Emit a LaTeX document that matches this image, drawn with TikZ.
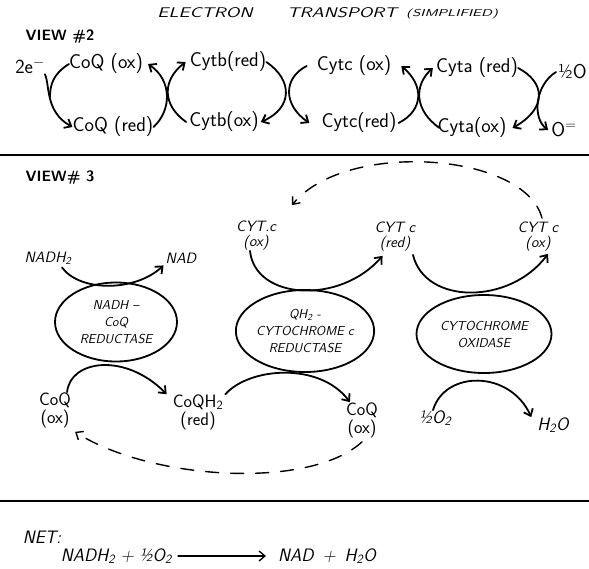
\documentclass[tikz,border=0pt]{standalone}
\usepackage{fontspec}
\usetikzlibrary{arrows.meta,shapes.geometric}
\tikzset{
  hand/.style={line width=1.8pt, line cap=round},
  harr/.style={hand, -{Straight Barb[length=6pt,width=10pt]}},
  dsh/.style={hand, line width=1.4pt, dash pattern=on 13pt off 12pt, -{Straight Barb[length=6pt,width=10pt]}},
  sepline/.style={line width=1.8pt},
  ttl/.style={font=\sffamily\itshape\fontsize{14}{15}\selectfont, inner sep=0pt, xscale=1.35, transform shape},
  ttls/.style={font=\sffamily\itshape\fontsize{10}{11}\selectfont, inner sep=0pt, xscale=1.5, transform shape},
  vlab/.style={font=\sffamily\bfseries\fontsize{15}{16}\selectfont, inner sep=0pt},
  lbl/.style={font=\sffamily\fontsize{20}{22}\selectfont, inner sep=0pt},
  cl/.style={font=\sffamily\itshape\fontsize{15}{15}\selectfont, inner sep=0pt, align=center},
  bl/.style={font=\sffamily\itshape\fontsize{18}{18}\selectfont, inner sep=0pt, align=center},
  sl/.style={font=\sffamily\fontsize{18}{18}\selectfont, inner sep=0pt, align=center},
  enz/.style={ellipse, draw, line width=1.8pt, inner sep=0pt, align=center,
    font=\sffamily\itshape\fontsize{13}{17}\selectfont},
}
\begin{document}
\begin{tikzpicture}[x=1pt,y=-1pt]
\useasboundingbox (0,0) rectangle (589,568);
\fill[white] (0,0) rectangle (589,568);

% title
\node[ttl] (t1) at (205,13) {ELECTRON};
\node[ttl] (t2) at (342,13) {TRANSPORT};
\node[ttls] (t3) at (452,14) {(SIMPLIFIED)};

% ---------- VIEW #2 ----------
\node[vlab] (v2) at (60,37) {VIEW \#2};
\node[lbl] (e2) at (30,66) {2e$^{-}$};
\node[lbl] (coqox) at (106,64) {CoQ (ox)};
\node[lbl] (coqred) at (113,127) {CoQ (red)};
\node[lbl] (cytbred) at (228,62) {Cytb(red)};
\node[lbl] (cytbox) at (224,122) {Cytb(ox)};
\node[lbl] (cytcox) at (354,66) {Cytc (ox)};
\node[lbl] (cytcred) at (359,123) {Cytc(red)};
\node[lbl] (cytared) at (477,68) {Cyta (red)};
\node[lbl] (cytaox) at (472,128) {Cyta(ox)};
\node[lbl, anchor=west] (halfo) at (558,72) {½O};
\node[lbl] (oeq) at (564,130) {O$^{=}$};
\coordinate (m1) at (50,97);

\draw[harr] (e2.south east) .. controls (50,85) and (45,112) .. (coqred.west);
\draw[hand] (coqox.west) .. controls (53,74) and (50,85) .. (m1);
\draw[harr] (coqred.east) .. controls (172,110) and (172,80) .. ([xshift=5pt]coqox.east);
\draw[harr] ([xshift=-3pt]cytbox.west) .. controls (162,105) and (162,80) .. ([xshift=-4pt]cytbred.west);
\draw[harr] (cytbred.east) .. controls (293,80) and (293,108) .. ([xshift=2pt]cytbox.east);
\draw[harr] ([xshift=-10pt]cytcox.west) .. controls (283,78) and (283,105) .. ([xshift=-12pt]cytcred.west);
\draw[harr] ([xshift=2pt]cytcred.east) .. controls (424,110) and (424,85) .. ([xshift=10pt]cytcox.east);
\draw[harr] ([xshift=2pt]cytaox.west) .. controls (414,110) and (414,85) .. ([xshift=-3pt]cytared.west);
\draw[harr] (cytared.east) .. controls (545,82) and (548,108) .. ([xshift=6pt]cytaox.east);
\draw[harr] ([xshift=-2pt]halfo.west) .. controls (535,85) and (532,118) .. ([xshift=-3pt]oeq.west);

\draw[sepline] (0,155) -- (589,155);

% ---------- VIEW #3 ----------
\node[vlab] (v3) at (60,178) {VIEW\# 3};
\node[cl] (nadh2) at (48,258) {NADH\textsubscript{2}};
\node[cl] (nad) at (181,258) {NAD};
\node[enz, minimum width=122pt, minimum height=79pt] (en1) at (116,322) {NADH –\\CoQ\\REDUCTASE};
\node[sl] (coqoxa) at (55,410) {CoQ\\(ox)};
\node[sl] (coqh2) at (198,412) {CoQH\textsubscript{2}\\(red)};
\node[enz, minimum width=134pt, minimum height=82pt] (en2) at (305,331) {QH\textsubscript{2} -\\CYTOCHROME c\\REDUCTASE};
\node[cl] (cytcoxa) at (256,236) {CYT.c\\(ox)};
\node[cl] (cytcreda) at (395,237) {CYT c\\(red)};
\node[cl] (cytcoxb) at (538,237) {CYT c\\(ox)};
\node[sl] (coqoxb) at (362,420) {CoQ\\(ox)};
\node[enz, minimum width=135pt, minimum height=78pt] (en3) at (484,334) {CYTOCHROME\\OXIDASE};
\node[bl] (o2) at (435,418) {½O\textsubscript{2}};
\node[bl] (h2o) at (553,425) {H\textsubscript{2}O};

\draw[harr] ([xshift=14pt,yshift=-3pt]nadh2.south) .. controls (80,292) and (135,292) .. ([xshift=-2pt,yshift=-2pt]nad.south west);
\draw[harr] ([xshift=-4pt]coqoxa.north east) .. controls (70,360) and (125,352) .. ([xshift=-6pt]coqh2.north west);
\draw[harr] ([xshift=-6pt]cytcoxa.south) .. controls (255,300) and (340,305) .. ([xshift=8pt,yshift=-4pt]cytcreda.south west);
\draw[harr] ([xshift=2pt]coqh2.north east) .. controls (250,367) and (320,362) .. ([xshift=4pt]coqoxb.north west);
\draw[harr] ([xshift=18pt,yshift=-3pt]cytcreda.south) .. controls (425,305) and (510,305) .. ([xshift=10pt,yshift=-2pt]cytcoxb.south);
\draw[harr] ([xshift=-2pt]o2.north) .. controls (445,370) and (510,370) .. ([xshift=-6pt]h2o.north west);
\draw[dsh] ([xshift=4pt,yshift=4pt]cytcoxb.north) .. controls (525,152) and (345,140) .. ([xshift=36pt,yshift=16pt]cytcoxa.north);
\draw[dsh] ([yshift=-4pt]coqoxb.south) .. controls (310,490) and (150,480) .. ([xshift=4pt,yshift=-4pt]coqoxa.south east);

\draw[sepline] (0,501) -- (589,501);

% ---------- NET ----------
\node[bl] (net) at (42,537) {NET:};
\node[bl, anchor=east] (eql) at (172,556) {NADH\textsubscript{2} + ½O\textsubscript{2}};
\node[bl, anchor=west] (eqr) at (278,556) {NAD\enspace+\enspace H\textsubscript{2}O};
\draw[hand, line width=1.3pt, -{Straight Barb[length=6pt,width=10pt]}] ([xshift=6pt]eql.east) -- ([xshift=-12pt]eqr.west);
\end{tikzpicture}
\end{document}
